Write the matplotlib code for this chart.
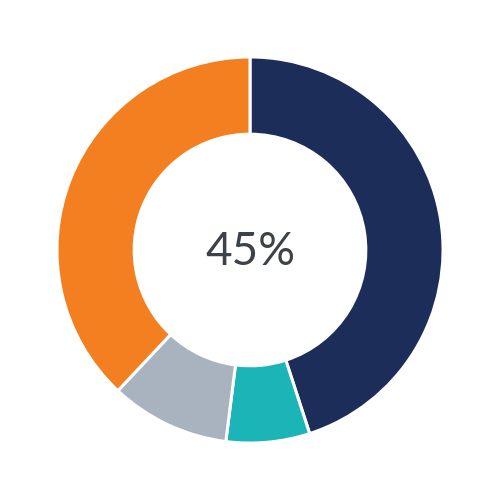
import matplotlib
matplotlib.use("Agg")
from matplotlib import pyplot as plt

# fatias do donut, em sentido horario a partir do topo
labels = ['Azul', 'Verde-agua', 'Cinza', 'Laranja']
values = [45, 7, 10, 38]
colors = ['#1c2d5a', '#1bb4b7', '#a9b2bf', '#f37f20']
center_text = '45%'

fig = plt.figure(figsize=(5, 5), dpi=100)
ax = fig.add_axes([0, 0, 1, 1])

ax.pie(values, colors=colors, startangle=90, counterclock=False, radius=1.0,
       wedgeprops=dict(width=0.4, edgecolor='white', linewidth=2.2))

ax.text(0, -0.01, center_text, ha='center', va='center', fontsize=33,
        family='Lato', weight='normal', color='#3d4148')

ax.set_xlim(-1.295, 1.295)
ax.set_ylim(-1.295, 1.295)
ax.set_aspect('equal')
ax.axis('off')

fig.savefig('out.png', dpi=100, facecolor='white')
